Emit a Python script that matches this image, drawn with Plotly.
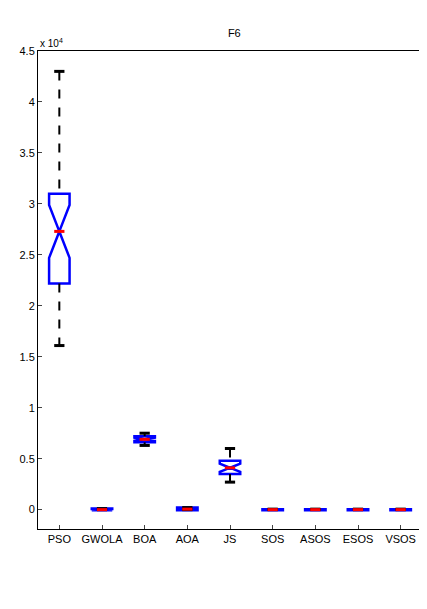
import plotly.graph_objects as go

algos = ["PSO", "GWOLA", "BOA", "AOA", "JS", "SOS", "ASOS", "ESOS", "VSOS"]
# values in units of 1e4
lower = [1.61, 0.0, 0.63, 0.0, 0.27, 0.0, 0.0, 0.0, 0.0]
q1 = [2.22, -0.005, 0.66, -0.005, 0.35, -0.005, -0.005, -0.005, -0.005]
median = [2.73, 0.0, 0.69, 0.005, 0.41, 0.0, 0.0, 0.0, 0.0]
q3 = [3.10, 0.01, 0.72, 0.02, 0.48, 0.005, 0.005, 0.005, 0.005]
upper = [4.30, 0.01, 0.75, 0.02, 0.60, 0.005, 0.005, 0.005, 0.005]
notch = [0.26, 0.005, 0.015, 0.005, 0.04, 0.002, 0.002, 0.002, 0.002]

xs = list(range(1, len(algos) + 1))
fig = go.Figure()

# whiskers
wx, wy, cx, cy = [], [], [], []
for x, lo, a, b, hi in zip(xs, lower, q1, q3, upper):
    wx += [x, x, None, x, x, None]
    wy += [hi, b, None, a, lo, None]
    cx += [x - 0.12, x + 0.12, None, x - 0.12, x + 0.12, None]
    cy += [hi, hi, None, lo, lo, None]
fig.add_trace(go.Scatter(x=wx, y=wy, mode="lines", line=dict(color="black", width=2, dash="dash"),
                         hoverinfo="skip", showlegend=False))
fig.add_trace(go.Scatter(x=cx, y=cy, mode="lines", line=dict(color="black", width=3),
                         hoverinfo="skip", showlegend=False))

fig.add_trace(go.Box(x=xs, q1=q1, median=median, q3=q3, lowerfence=q1, upperfence=q3,
                     notched=True, notchspan=notch, notchwidth=0.5, width=0.48,
                     line=dict(color="blue", width=2.5), fillcolor="rgba(0,0,0,0)",
                     whiskerwidth=0, showlegend=False))

mx, my = [], []
for x, m in zip(xs, median):
    mx += [x - 0.12, x + 0.12, None]
    my += [m, m, None]
fig.add_trace(go.Scatter(x=mx, y=my, mode="lines", line=dict(color="red", width=3),
                         hoverinfo="skip", showlegend=False))

ax = dict(showline=True, linecolor="black", mirror=True, ticks="inside", ticklen=4,
          showgrid=False, zeroline=False, tickfont=dict(size=11, color="black"))
fig.update_layout(
    width=427, height=609, paper_bgcolor="white", plot_bgcolor="white",
    margin=dict(l=28, r=12, t=43, b=88),
    font=dict(family="Liberation Sans", size=11, color="black"),
    title=dict(text="F6", x=0.53, y=0.965, font=dict(size=11)),
    xaxis=dict(ax, range=[0.5, 9.5], tickvals=xs, ticktext=algos),
    yaxis=dict(ax, range=[-0.19, 4.5], tickvals=[0, 0.5, 1, 1.5, 2, 2.5, 3, 3.5, 4, 4.5],
               ticktext=["0", "0.5", "1", "1.5", "2", "2.5", "3", "3.5", "4", "4.5"]),
    annotations=[dict(text="x 10<sup>4</sup>", xref="paper", yref="paper", x=0, y=1,
                      xanchor="left", yanchor="bottom", showarrow=False, font=dict(size=10))],
)
fig.write_html("out.html")
